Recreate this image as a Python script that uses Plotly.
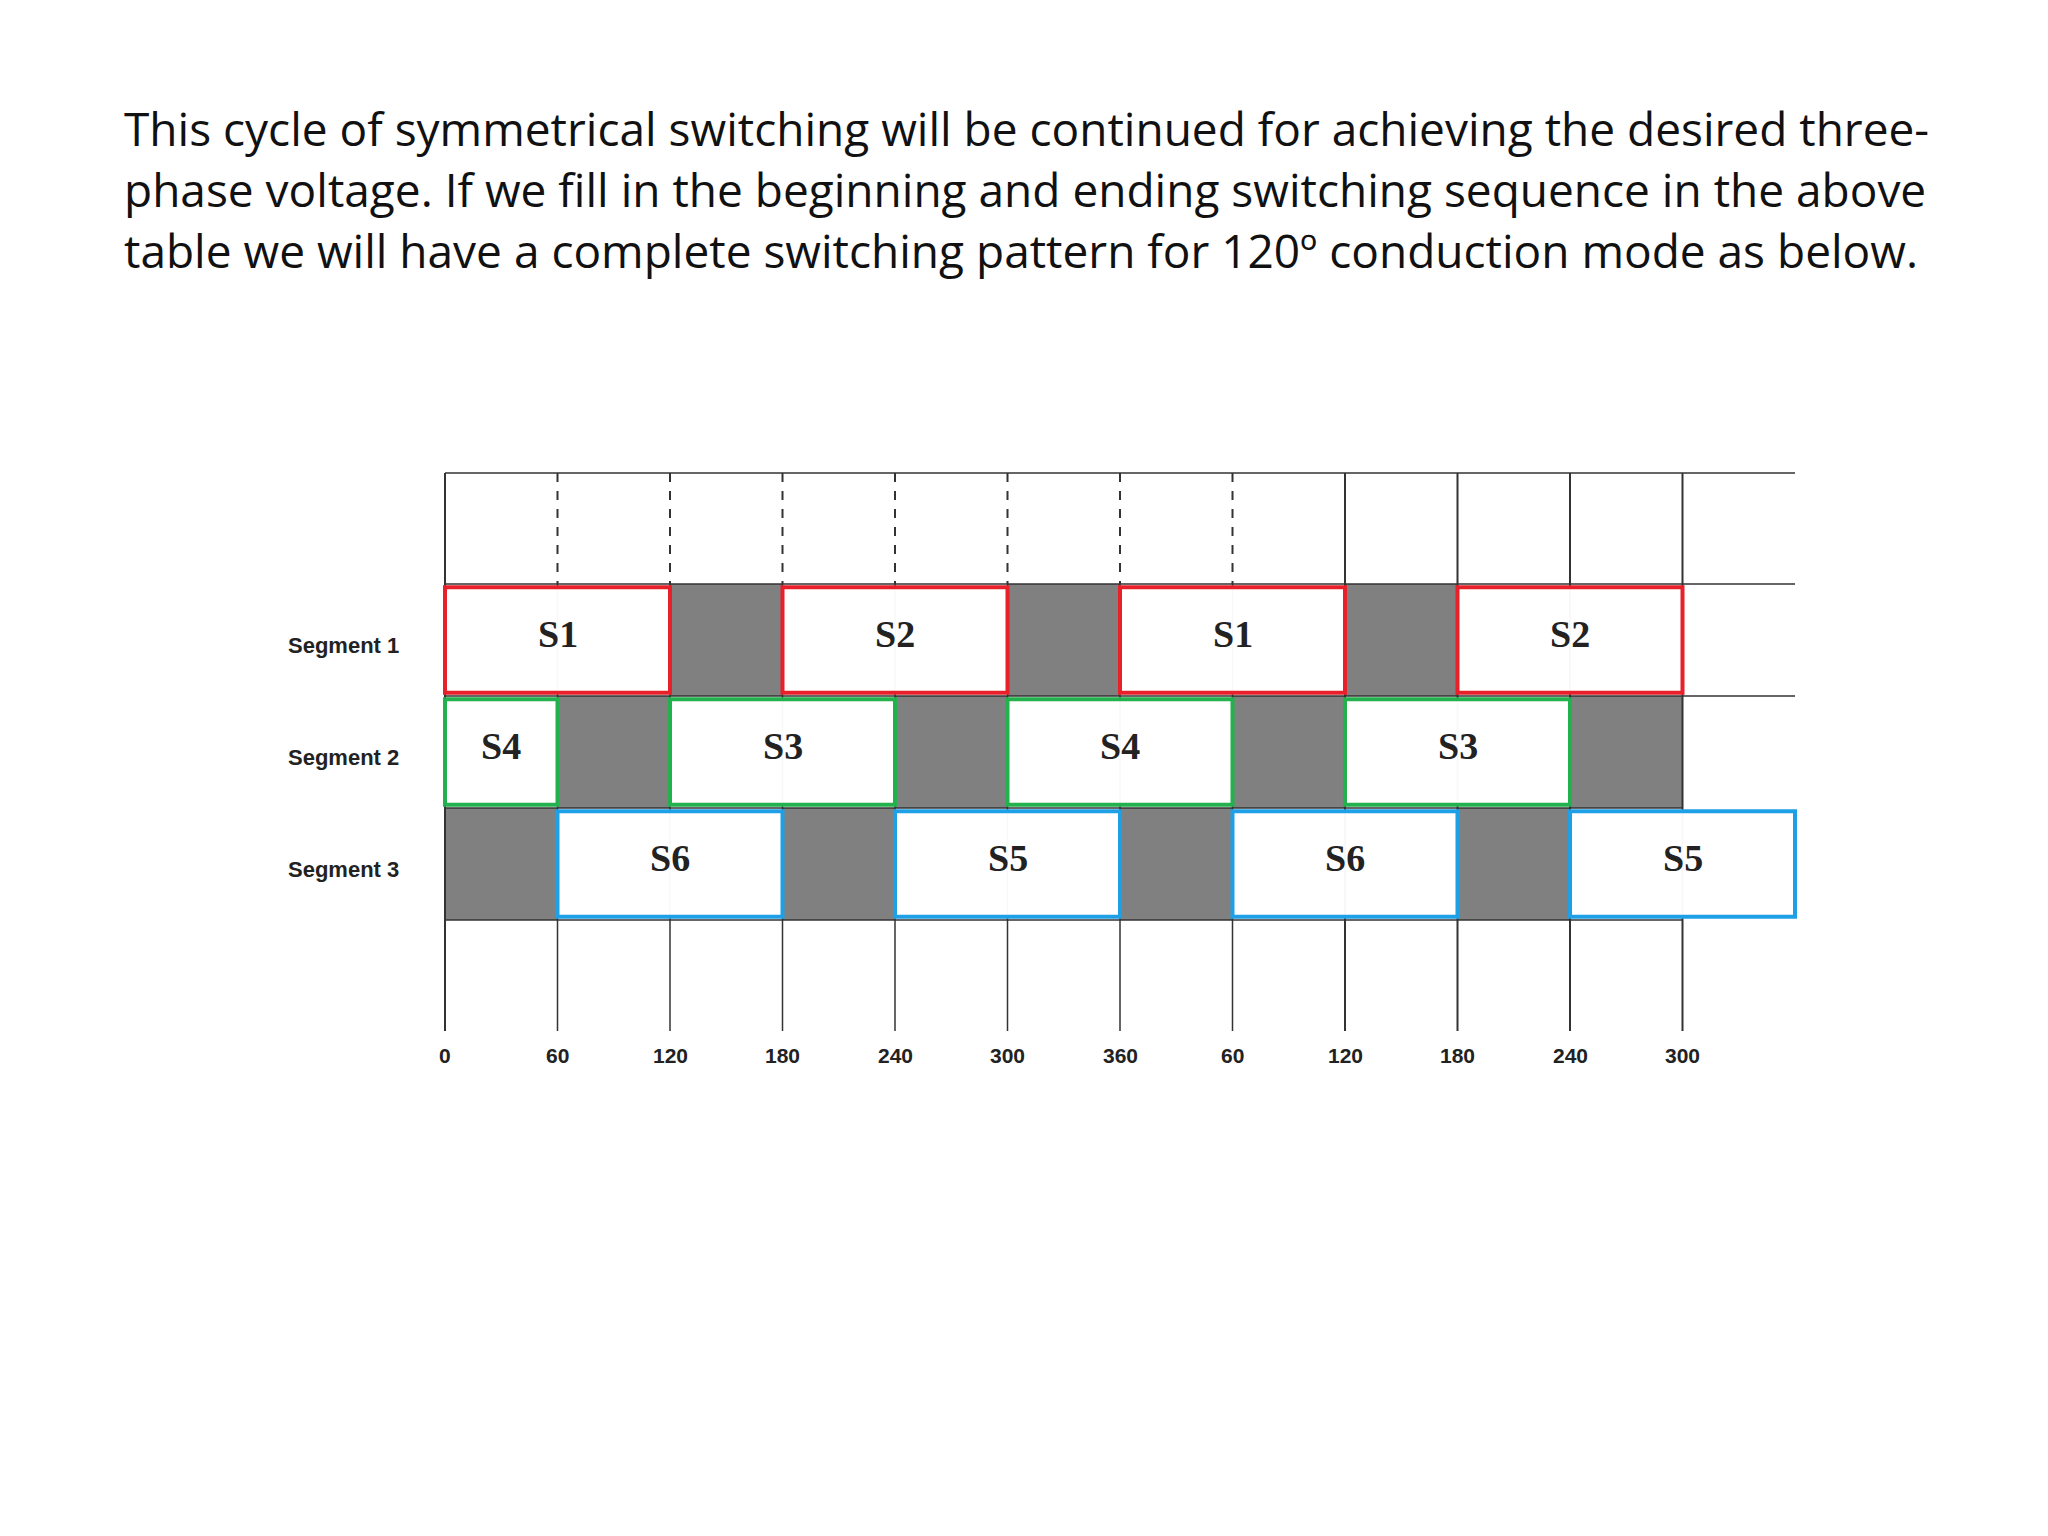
import plotly.graph_objects as go

tick_labels = ["0","60","120","180","240","300","360","60","120","180","240","300"]
segments = ["Segment 1","Segment 2","Segment 3"]
# (row, start, end, label) in 60-degree steps
switch_boxes = [
    (0,0,2,"S1"),(0,3,5,"S2"),(0,6,8,"S1"),(0,9,11,"S2"),
    (1,0,1,"S4"),(1,2,4,"S3"),(1,5,7,"S4"),(1,8,10,"S3"),
    (2,1,3,"S6"),(2,4,6,"S5"),(2,7,9,"S6"),(2,10,12,"S5"),
]
gray_blocks = [
    (0,2,3),(0,5,6),(0,8,9),
    (1,1,2),(1,4,5),(1,7,8),(1,10,11),
    (2,0,1),(2,3,4),(2,6,7),(2,9,10),
]
row_colors = ["#e8202a","#22b14c","#1ea0e6"]
text_lines = [
    "This cycle of symmetrical switching will be continued for achieving the desired three-",
    "phase voltage. If we fill in the beginning and ending switching sequence in the above",
    "table we will have a complete switching pattern for 120º conduction mode as below.",
]

W, H = 2048, 1536
X0, XS = 437, 112.5
Y0, YS = 632, 112
fig = go.Figure()
fig.add_trace(go.Scatter(x=[0], y=[0], mode="markers", marker=dict(opacity=0), hoverinfo="skip"))
shapes = []
top_y = -0.5 - (584-473)/YS
axis_y = 2.5 + (1032-921)/YS
for yy, x1 in [(top_y, 12), (-0.5, 12), (0.5, 12), (1.5, 11), (2.5, 11)]:
    shapes.append(dict(type="line", x0=0, x1=x1, y0=yy, y1=yy, line=dict(color="#333", width=1.5)))
for r, a, b in gray_blocks:
    shapes.append(dict(type="rect", x0=a, x1=b, y0=r-0.5, y1=r+0.5, fillcolor="#808080", line=dict(width=0), layer="below"))
for i in range(12):
    if 1 <= i <= 7:
        shapes.append(dict(type="line", x0=i, x1=i, y0=top_y, y1=-0.5, line=dict(color="#333", width=2, dash="dash")))
        shapes.append(dict(type="line", x0=i, x1=i, y0=-0.5, y1=axis_y, line=dict(color="#333", width=1.5)))
    else:
        shapes.append(dict(type="line", x0=i, x1=i, y0=top_y, y1=axis_y, line=dict(color="#333", width=2)))
annotations = []
for r, a, b, lab in switch_boxes:
    shapes.append(dict(type="rect", x0=a, x1=b, y0=r-0.47, y1=r+0.47, fillcolor="rgba(255,255,255,0.97)",
                       line=dict(color=row_colors[r], width=4)))
    annotations.append(dict(x=(a+b)/2, y=r-0.05, text="<b>%s</b>" % lab, showarrow=False,
                            font=dict(family="Liberation Serif", size=38, color="#222")))
for r, s in enumerate(segments):
    annotations.append(dict(x=-0.9, y=r+0.05, text="<b>%s</b>" % s, showarrow=False,
                            font=dict(family="Liberation Sans", size=22, color="#222")))
for i, t in enumerate(tick_labels):
    annotations.append(dict(x=i, y=axis_y + 0.22, text="<b>%s</b>" % t, showarrow=False,
                            font=dict(family="Liberation Sans", size=21, color="#222")))
for k, line in enumerate(text_lines):
    annotations.append(dict(xref="paper", yref="paper", x=114/W, y=1-(120+61*k)/H, text=line,
                            showarrow=False, xanchor="left", yanchor="middle",
                            font=dict(family="Open Sans", size=46, color="#111")))
fig.update_layout(
    width=W, height=H, margin=dict(l=0, r=0, t=0, b=0), plot_bgcolor="white", paper_bgcolor="white",
    showlegend=False, shapes=shapes, annotations=annotations,
    xaxis=dict(range=[-X0/XS, (W-X0)/XS], visible=False, fixedrange=True),
    yaxis=dict(range=[(H-Y0)/YS, -Y0/YS], visible=False, fixedrange=True),
)
fig.write_html("out.html")
